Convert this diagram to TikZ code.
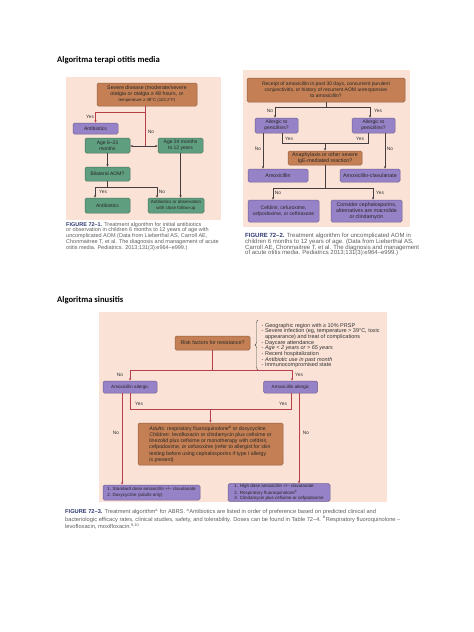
\documentclass[tikz,border=0pt]{standalone}
\usepackage{fontspec}
\setmainfont{Liberation Sans}
\newfontfamily\headfont{Carlito}
\usetikzlibrary{arrows.meta,decorations.pathreplacing}

\definecolor{panelbg}{RGB}{250,226,214}
\definecolor{boxorange}{RGB}{196,128,84}
\definecolor{boxpurple}{RGB}{150,130,198}
\definecolor{boxgreen}{RGB}{96,158,128}
\definecolor{linered}{RGB}{184,62,74}
\definecolor{linedark}{RGB}{70,62,62}
\definecolor{capblue}{RGB}{48,58,112}
\definecolor{captext}{RGB}{95,95,95}

\begin{document}
\begin{tikzpicture}[x=1pt,y=-1pt,
  flowbox/.style={rounded corners=1.5pt,line width=0.5pt,text=black!85,align=center,inner sep=1pt,font=\fontsize{5}{6}\selectfont},
  obox/.style={flowbox,fill=boxorange,draw=boxorange!75!black},
  pbox/.style={flowbox,fill=boxpurple,draw=boxpurple!75!black},
  gbox/.style={flowbox,fill=boxgreen,draw=boxgreen!75!black},
  lbl/.style={font=\fontsize{4.8}{5.5}\selectfont,text=black!80,inner sep=0.5pt},
  redl/.style={draw=linered,line width=0.6pt},
  darkl/.style={draw=linedark,line width=0.5pt},
  rarr/.style={redl,-{Stealth[length=2.6pt,width=2.2pt]}},
  darr/.style={darkl,-{Stealth[length=2.6pt,width=2.2pt]}},
  captxt/.style={anchor=north west,align=left,inner sep=0pt,text=captext,font=\fontsize{5.5}{5.8}\selectfont},
  headtxt/.style={anchor=west,inner sep=0pt,font=\headfont\bfseries\fontsize{8.6}{9}\selectfont}]

\fill[white] (0,0) rectangle (474,632);
\useasboundingbox (0,0) rectangle (474,632);

% otitis media, figure 72-1
\node[headtxt] (h1) at (57,60) {Algoritma terapi otitis media};
\fill[panelbg] (66,77) rectangle (221,220);

\node[obox, minimum width=100pt, minimum height=23pt, font=\fontsize{5.3}{6}\selectfont] (sev) at (147,94.5) {Severe disease (moderate/severe\\otalgia or otalgia ≥ 48 hours, or\\{\fontsize{4.3}{5}\selectfont temperature ≥ 39°C (102.2°F)}};
\node[pbox, minimum width=45pt, minimum height=11pt] (abx1) at (95.5,128.5) {Antibiotics};
\node[gbox, minimum width=45pt, minimum height=15pt] (age1) at (107.5,145.5) {Age 6–23\\months};
\node[gbox, minimum width=45pt, minimum height=15pt] (age2) at (180.5,145.5) {Age 24 months\\to 12 years};
\node[gbox, minimum width=45pt, minimum height=14pt] (bil) at (107.5,174) {Bilateral AOM?};
\node[gbox, minimum width=45pt, minimum height=15pt] (abx2) at (107.5,205.5) {Antibiotics};
\node[gbox, minimum width=56pt, minimum height=15pt, font=\fontsize{4.5}{5.4}\selectfont] (obs) at (176,205.5) {Antibiotics or observation\\with close follow-up};

\coordinate (s1) at (145,112);
\coordinate (j1) at (145,146);
\draw[redl] (sev.south -| s1) -- (j1);
\draw[rarr] (s1) -| (abx1.north);
\draw[darr] (j1) -- (j1 -| age1.east);
\draw[darr] (j1) -- (j1 -| age2.west);
\draw[darr] (age1.south) -- (bil.north);
\coordinate (y2) at (95,187);
\coordinate (n2) at (157,187);
\draw[darkl] (bil.south) -- (bil.south |- y2);
\draw[darkl] (y2) -- (n2);
\draw[darr] (y2) -- (y2 |- abx2.north);
\draw[darr] (n2) -- (n2 |- obs.north);
\draw[darr] (age2.south) -- (age2.south |- obs.north);

\node[lbl] (t1) at (90,117) {Yes};
\node[lbl] (t2) at (151,132) {No};
\node[lbl] (t3) at (103,192) {Yes};
\node[lbl] (t4) at (162,192) {No};

\node[captxt] (cap1) at (66,222) {\textcolor{capblue}{\textbf{FIGURE 72–1.}} Treatment algorithm for initial antibiotics\\or observation in children 6 months to 12 years of age with\\uncomplicated AOM (Data from Lieberthal AS, Carroll AE,\\Chonmaitree T, et al. The diagnosis and management of acute\\otitis media. Pediatrics. 2013;131(3):e964–e999.)};

% otitis media, figure 72-2
\fill[panelbg] (243,70) rectangle (410,227);

\node[obox, minimum width=158pt, minimum height=24pt] (rcpt) at (326,90) {Receipt of amoxicillin in past 30 days, concurrent purulent\\conjunctivitis, or history of recurrent AOM unresponsive\\to amoxicillin?};
\node[pbox, minimum width=43pt, minimum height=15pt] (al1) at (276.5,125.5) {Allergic to\\penicillins?};
\node[pbox, minimum width=43pt, minimum height=15pt] (al2) at (373.5,125.5) {Allergic to\\penicillins?};
\node[obox, minimum width=74pt, minimum height=14pt, font=\fontsize{5.3}{6}\selectfont] (ana) at (325,158) {Anaphylaxis or other severe\\IgE-mediated reaction?};
\node[pbox, minimum width=60pt, minimum height=13pt, font=\fontsize{5.3}{6}\selectfont] (amox) at (278,175.5) {Amoxicillin};
\node[pbox, minimum width=60pt, minimum height=13pt, font=\fontsize{5.3}{6}\selectfont] (amc) at (370,175.5) {Amoxicillin-clavulanate};
\node[pbox, minimum width=71pt, minimum height=22pt] (cef) at (283.5,211) {Cefdinir, cefuroxime,\\cefpodoxime, or ceftriaxone};
\node[pbox, minimum width=71pt, minimum height=22pt, font=\fontsize{5.3}{6}\selectfont] (cons) at (366.5,211) {Consider cephalosporins,\\alternatives are macrolide\\or clindamycin};

\coordinate (k1) at (275,107);
\coordinate (k2) at (370,107);
\draw[darkl] (rcpt.south) -- (rcpt.south |- k1);
\draw[darkl] (k1) -- (k2);
\draw[darr] (k1) -- (k1 |- al1.north);
\draw[darr] (k2) -- (k2 |- al2.north);
\coordinate (k3) at (282,143);
\coordinate (k4) at (368,143);
\draw[darkl] (k3 |- al1.south) -- (k3) -- (k4) -- (k4 |- al2.south);
\draw[darr] (ana.north |- k3) -- (ana.north);
\coordinate (k6) at (263,133);
\coordinate (k7) at (385,133);
\draw[darr] (k6) -- (k6 |- amox.north);
\draw[darr] (k7) -- (k7 |- amc.north);
\coordinate (k8) at (273,188);
\coordinate (k9) at (373,188);
\draw[darkl] (ana.south) -- (ana.south |- k8);
\draw[darkl] (k8) -- (k9);
\draw[darr] (k8) -- (k8 |- cef.north);
\draw[darr] (k9) -- (k9 |- cons.north);

\node[lbl] (u1) at (270,111) {No};
\node[lbl] (u2) at (378,111) {Yes};
\node[lbl] (u3) at (289,139) {Yes};
\node[lbl] (u4) at (360,139) {Yes};
\node[lbl] (u5) at (258,149) {No};
\node[lbl] (u6) at (390,149) {No};
\node[lbl] (u7) at (278,193) {No};
\node[lbl] (u8) at (380,193) {Yes};

\node[captxt, font=\fontsize{6}{5.8}\selectfont] (cap2) at (245,233) {\textcolor{capblue}{\textbf{FIGURE 72–2.}} Treatment algorithm for uncomplicated AOM in\\children 6 months to 12 years of age. (Data from Lieberthal AS,\\Carroll AE, Chonmaitree T, et al. The diagnosis and management\\of acute otitis media. Pediatrics 2013;131(3):e964–e999.)};

% sinusitis, figure 72-3
\node[headtxt] (h2) at (57,300) {Algoritma sinusitis};
\fill[panelbg] (99,312) rectangle (387,502);

\node[obox, minimum width=75pt, minimum height=14pt, font=\fontsize{5.3}{6}\selectfont] (risk) at (212.5,343) {Risk factors for resistance?};
\draw[decorate, decoration={brace,amplitude=3pt}, black!70, line width=0.4pt] (258,370) -- (258,320);
\node[lbl, anchor=west, align=left, font=\fontsize{5.5}{5.65}\selectfont] (rfl) at (261,345.5) {- Geographic region with ≥ 10\% PRSP\\- Severe infection (eg, temperature > 39°C, toxic\\\phantom{- }appearance) and treat of complications\\- Daycare attendance\\- {\itshape Age < 2 years or > 65 years}\\- Recent hospitalization\\- {\itshape Antibiotic use in past month}\\- Immunocompromised state};
\node[pbox, minimum width=54pt, minimum height=12pt, font=\fontsize{4.6}{5.5}\selectfont] (aal) at (130,387) {Amoxicillin allergic};
\node[pbox, minimum width=54pt, minimum height=12pt, font=\fontsize{4.6}{5.5}\selectfont] (bal) at (290.5,387) {Amoxicillin allergic};
\node[obox, minimum width=145pt, minimum height=42pt, align=left, font=\fontsize{5.2}{6.3}\selectfont] (adl) at (210.5,444) {\textit{Adults:} respiratory fluoroquinolone\textsuperscript{b} or doxycycline\\\textit{Children:} levofloxacin or clindamycin plus cefixime or\\linezolid plus cefixime or monotherapy with cefdinir,\\cefpodoxime, or cefuroxime (refer to allergist for skin\\testing before using cephalosporins if type I allergy\\is present)};
\node[pbox, minimum width=97pt, minimum height=15pt, align=left, font=\fontsize{4.5}{5.4}\selectfont] (std) at (151.5,492.5) {1. Standard dose amoxicillin +/– clavulanate\\2. Doxycycline (adults only)};
\node[pbox, minimum width=102pt, minimum height=16pt, align=left, font=\fontsize{4.5}{5.2}\selectfont] (hd) at (279,492.5) {1. High dose amoxicillin +/– clavulanate\\2. Respiratory fluoroquinolone\textsuperscript{b}\\3. Clindamycin plus cefixime or cefpodoxime};

\coordinate (m1) at (130,370);
\coordinate (m2) at (292,370);
\draw[redl] (risk.south) -- (risk.south |- m1);
\draw[redl] (m1) -- (m2);
\draw[rarr] (m1) -- (aal.north);
\draw[rarr] (m2) -- (m2 |- bal.north);
\coordinate (m3) at (130,409);
\coordinate (m4) at (291,409);
\draw[redl] (aal.south) -- (m3) -- (m4) -- (m4 |- bal.south);
\draw[rarr] (adl.north |- m3) -- (adl.north);
\coordinate (m5) at (122,393);
\coordinate (m6) at (299,393);
\draw[rarr] (m5) -- (m5 |- std.north);
\draw[rarr] (m6) -- (m6 |- hd.north);

\node[lbl] (v1) at (120,375) {No};
\node[lbl] (v2) at (299,375) {Yes};
\node[lbl] (v3) at (139,404) {Yes};
\node[lbl] (v4) at (283,404) {Yes};
\node[lbl] (v5) at (116,433) {No};
\node[lbl] (v6) at (306,433) {No};

\node[captxt, font=\fontsize{5.7}{5.8}\selectfont] (cap3) at (65,509) {\textcolor{capblue}{\textbf{FIGURE 72–3.}} Treatment algorithm\textsuperscript{a} for ABRS. \textsuperscript{a}Antibiotics are listed in order of preference based on predicted clinical and\\bacteriologic efficacy rates, clinical studies, safety, and tolerability. Doses can be found in Table 72–4. \textsuperscript{b}Respiratory fluoroquinolone –\\levofloxacin, moxifloxacin.\textsuperscript{8,10}};
\end{tikzpicture}
\end{document}
